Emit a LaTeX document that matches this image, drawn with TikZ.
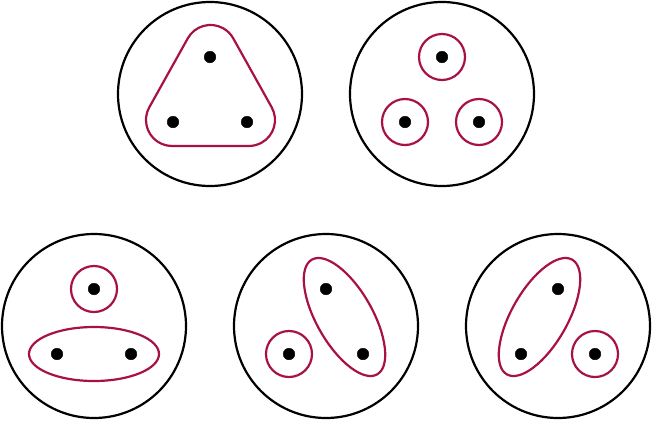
\documentclass[tikz,border=0pt]{standalone}
\usepackage{tikz}
\usetikzlibrary{calc}
\definecolor{blockred}{RGB}{168,16,72}
\tikzset{
  outer/.style={draw=black, line width=2.2pt},
  block/.style={draw=blockred, line width=2.2pt},
  pt/.style={fill=black}
}

\begin{document}
\begin{tikzpicture}[x=1pt, y=-1pt]
  \useasboundingbox (0,0) rectangle (653,421);

  % Centres of the five partitions
  \coordinate (A) at (210,94);
  \coordinate (B) at (442,94);
  \coordinate (C) at (94,326);
  \coordinate (D) at (326,326);
  \coordinate (E) at (558,326);

  % Outer circles
  \draw[outer] (A) circle (92);
  \draw[outer] (B) circle (92);
  \draw[outer] (C) circle (92);
  \draw[outer] (D) circle (92);
  \draw[outer] (E) circle (92);

  % Partition {1,2,3}
  \draw[block] (149.3,107.3) -- (187.8,38.3)
    arc[start angle=209.15, end angle=330.85, radius=26] -- (271.7,107.3)
    arc[start angle=-29.15, end angle=90, radius=26] -- (172,146)
    arc[start angle=90, end angle=209.15, radius=26] -- cycle;
  \filldraw[pt] ($(A)+(0,-37)$) circle (5.8);
  \filldraw[pt] ($(A)+(-37,28)$) circle (5.8);
  \filldraw[pt] ($(A)+(37,28)$) circle (5.8);

  % Partition {1},{2},{3}
  \draw[block] ($(B)+(0,-37)$) circle (23);
  \draw[block] ($(B)+(-37,28)$) circle (23);
  \draw[block] ($(B)+(37,28)$) circle (23);
  \filldraw[pt] ($(B)+(0,-37)$) circle (5.8);
  \filldraw[pt] ($(B)+(-37,28)$) circle (5.8);
  \filldraw[pt] ($(B)+(37,28)$) circle (5.8);

  % Partition {1},{2,3}
  \draw[block] ($(C)+(0,-37)$) circle (23);
  \draw[block] ($(C)+(0,28)$) ellipse (65 and 27);
  \filldraw[pt] ($(C)+(0,-37)$) circle (5.8);
  \filldraw[pt] ($(C)+(-37,28)$) circle (5.8);
  \filldraw[pt] ($(C)+(37,28)$) circle (5.8);

  % Partition {2},{1,3}
  \draw[block] ($(D)+(-37,28)$) circle (23);
  \draw[block, shift={(344.5,317)}, rotate=-60.35] (0,0) ellipse (66 and 28);
  \filldraw[pt] ($(D)+(0,-37)$) circle (5.8);
  \filldraw[pt] ($(D)+(-37,28)$) circle (5.8);
  \filldraw[pt] ($(D)+(37,28)$) circle (5.8);

  % Partition {3},{1,2}
  \draw[block] ($(E)+(37,28)$) circle (23);
  \draw[block, shift={(539.5,317)}, rotate=60.35] (0,0) ellipse (66 and 28);
  \filldraw[pt] ($(E)+(0,-37)$) circle (5.8);
  \filldraw[pt] ($(E)+(-37,28)$) circle (5.8);
  \filldraw[pt] ($(E)+(37,28)$) circle (5.8);
\end{tikzpicture}
\end{document}
